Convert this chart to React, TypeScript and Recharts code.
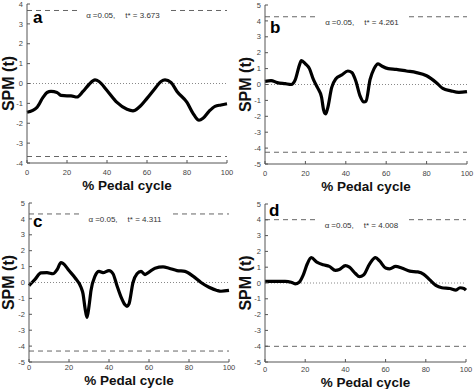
import { LineChart, Line, XAxis, YAxis, ReferenceLine } from 'recharts';

// % pedal cycle positions and SPM{t} values
const aX = [0, 5, 8, 10, 12, 15, 17, 20, 22, 25, 28, 31, 34, 36, 40, 45, 50, 53, 56, 60, 64, 67, 69, 72, 75, 80, 83, 86, 88, 91, 94, 97, 100];
const aY = [-1.45, -1.2, -0.7, -0.45, -0.4, -0.45, -0.6, -0.62, -0.62, -0.68, -0.4, -0.05, 0.18, 0.1, -0.35, -0.95, -1.3, -1.38, -1.2, -0.75, -0.25, 0.1, 0.18, 0.05, -0.4, -0.95, -1.5, -1.85, -1.75, -1.4, -1.15, -1.08, -1.02];

const bX = [0, 3, 6, 10, 13, 15, 17, 18, 20, 22, 24, 26, 28, 29, 30, 31, 33, 35, 38, 41, 43, 45, 47, 49, 50, 52, 54, 56, 58, 61, 65, 70, 75, 80, 85, 88, 92, 96, 100];
const bY = [0.2, 0.25, 0.12, 0.05, 0.0, 0.3, 1.2, 1.5, 1.3, 1.0, 0.3, -0.2, -0.8, -1.6, -1.85, -1.5, -0.2, 0.35, 0.6, 0.85, 0.75, 0.2, -0.7, -1.1, -1.05, 0.3, 1.0, 1.3, 1.15, 1.0, 0.95, 0.85, 0.75, 0.55, 0.1, -0.25, -0.4, -0.5, -0.45];

const cX = [0, 3, 6, 9, 12, 14, 16, 17, 20, 23, 26, 27, 28, 29, 30, 31, 33, 35, 37, 40, 42, 44, 46, 48, 49, 50, 52, 54, 56, 58, 60, 63, 67, 70, 74, 78, 82, 86, 90, 94, 96, 100];
const cY = [-0.2, 0.2, 0.6, 0.62, 0.55, 0.8, 1.25, 1.2, 0.75, 0.3, -0.3, -0.7, -1.6, -2.2, -1.5, -0.5, 0.4, 0.7, 0.62, 0.75, 0.55, -0.2, -0.9, -1.4, -1.5, -1.35, 0.0, 0.55, 0.7, 0.5, 0.65, 0.9, 0.98, 0.9, 0.75, 0.7, 0.4, 0.0, -0.3, -0.5, -0.55, -0.5];

const dX = [0, 10, 13, 15, 17, 19, 21, 23, 26, 29, 32, 35, 37, 40, 42, 45, 47, 49, 52, 55, 57, 60, 62, 65, 68, 72, 76, 79, 82, 85, 88, 92, 95, 97, 99, 100];
const dY = [0.1, 0.1, 0.05, -0.05, 0.05, 0.5, 1.2, 1.6, 1.3, 1.15, 1.05, 0.8, 0.85, 1.1, 1.0, 0.6, 0.4, 0.5, 1.2, 1.6, 1.4, 0.95, 0.9, 1.05, 0.95, 0.75, 0.7, 0.55, 0.2, -0.15, -0.3, -0.35, -0.45, -0.3, -0.35, -0.45];

const xTicks = [0, 20, 40, 60, 80, 100];
const yTicks4 = [-4, -3, -2, -1, 0, 1, 2, 3, 4];
const yTicks5 = [-5, -4, -3, -2, -1, 0, 1, 2, 3, 4, 5];

const panelLetters = ['a', 'b', 'c', 'd'];
const thresholds = [3.673, 4.261, 4.311, 4.008];

const FONT = '"Liberation Sans", Arial, sans-serif';

function ThresholdLabel({ viewBox, tStar }: any) {
  const cx = viewBox.x + viewBox.width / 2 - 4;
  const y = viewBox.y;
  return (
    <g>
      <rect x={cx - 46} y={y - 3} width={92} height={6} fill="#fff" />
      <text x={cx} y={y + 8} textAnchor="middle" fontSize={8} fill="#333" fontFamily={FONT}>
        <tspan>α</tspan>
        <tspan dx={2}>=0.05,</tspan>
        <tspan dx={10}>{`t* = ${tStar}`}</tspan>
      </text>
    </g>
  );
}

interface PanelProps {
  xs: number[];
  ys: number[];
  idx: number;
  left: number;
  top: number;
  height: number;
  yTicks: number[];
  margin: { top: number; right: number };
  yWidth: number;
  xHeight: number;
  xTickMargin: number;
  labelOffset: number;
  letterPos: [number, number];
}

function Panel({ xs, ys, idx, left, top, height, yTicks, margin, yWidth, xHeight, xTickMargin, labelOffset, letterPos }: PanelProps) {
  const data = xs.map((x, i) => ({ x, y: ys[i] }));
  const lim = yTicks[yTicks.length - 1];
  const t = thresholds[idx];
  return (
    <div style={{ position: 'absolute', left, top }}>
      <LineChart width={237} height={height} data={data} margin={{ top: margin.top, right: margin.right, left: 0, bottom: 0 }}>
        <XAxis
          dataKey="x"
          type="number"
          domain={[0, 100]}
          ticks={xTicks}
          height={xHeight}
          stroke="#555"
          tickSize={-3}
          tickMargin={xTickMargin}
          tick={{ fontSize: 7.5, fill: '#444', fontFamily: FONT }}
          label={{ value: '% Pedal cycle', position: 'insideBottom', offset: labelOffset, style: { fontSize: 13.5, fontWeight: 'bold', fill: '#111', fontFamily: FONT } }}
        />
        <YAxis
          type="number"
          domain={[-lim, lim]}
          ticks={yTicks}
          width={yWidth}
          stroke="#555"
          tickSize={-3}
          tickMargin={7}
          tick={{ fontSize: 7.5, fill: '#444', fontFamily: FONT }}
          label={{ value: 'SPM (t)', angle: -90, position: 'insideLeft', offset: 8, style: { textAnchor: 'middle', fontSize: 16, fontWeight: 'bold', fill: '#111', fontFamily: FONT } }}
        />
        <ReferenceLine y={0} stroke="#888" strokeDasharray="1 2" />
        <ReferenceLine y={t} stroke="#666" strokeDasharray="5 4" label={<ThresholdLabel tStar={t} />} />
        <ReferenceLine y={-t} stroke="#666" strokeDasharray="5 4" />
        <Line type="monotone" dataKey="y" stroke="#000" strokeWidth={3.2} dot={false} isAnimationActive={false} />
        <text x={letterPos[0]} y={letterPos[1]} fontSize={17} fontWeight="bold" fill="#000" fontFamily={FONT}>
          {panelLetters[idx]}
        </text>
      </LineChart>
    </div>
  );
}

export default function App() {
  return (
    <div style={{ position: 'absolute', left: 0, top: 0, width: 474, height: 389, background: '#fff', fontFamily: FONT }}>
      <Panel xs={aX} ys={aY} idx={0} left={0} top={0} height={195} yTicks={yTicks4} margin={{ top: 4, right: 10 }} yWidth={27} xHeight={32} xTickMargin={10} labelOffset={5.5} letterPos={[33, 23]} />
      <Panel xs={bX} ys={bY} idx={1} left={237} top={0} height={195} yTicks={yTicks5} margin={{ top: 5, right: 7 }} yWidth={28} xHeight={31} xTickMargin={10} labelOffset={4.5} letterPos={[33, 33]} />
      <Panel xs={cX} ys={cY} idx={2} left={0} top={195} height={194} yTicks={yTicks5} margin={{ top: 8, right: 8 }} yWidth={29} xHeight={27} xTickMargin={6} labelOffset={4.5} letterPos={[33, 32]} />
      <Panel xs={dX} ys={dY} idx={3} left={237} top={195} height={194} yTicks={yTicks5} margin={{ top: 9, right: 8 }} yWidth={28} xHeight={27} xTickMargin={8} labelOffset={2.5} letterPos={[32, 21]} />
    </div>
  );
}
